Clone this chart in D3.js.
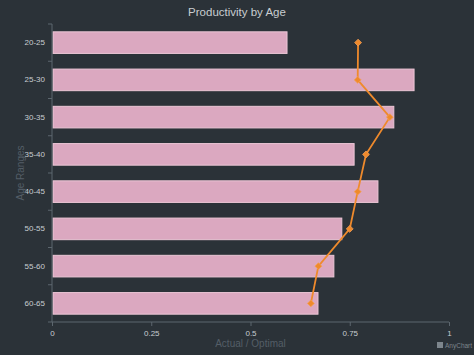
<!DOCTYPE html>
<html>
<head>
<meta charset="utf-8">
<script src="https://cdn.jsdelivr.net/npm/d3@7"></script>
<style>
  html, body { margin: 0; padding: 0; background: #2b3238; }
  svg { display: block; font-family: "Liberation Sans", Arial, sans-serif; }
</style>
</head>
<body>
<div id="chart"></div>
<script>
// Data
const categories = ["20-25", "25-30", "30-35", "35-40", "40-45", "50-55", "55-60", "60-65"];
const actual = [0.592, 0.912, 0.861, 0.761, 0.821, 0.730, 0.710, 0.670];
const optimal = [0.771, 0.770, 0.851, 0.791, 0.770, 0.750, 0.671, 0.652];
const xTicks = [0, 0.25, 0.5, 0.75, 1];
const xTickLabels = ["0", "0.25", "0.5", "0.75", "1"];

const width = 474;
const height = 355;
const margin = { top: 24, right: 25, bottom: 33, left: 52 };
const chartWidth = width - margin.left - margin.right;
const chartHeight = height - margin.top - margin.bottom;

const svg = d3.select("#chart")
    .append("svg")
    .attr("width", width)
    .attr("height", height);

svg.append("rect")
    .attr("width", width)
    .attr("height", height)
    .attr("fill", "#2b3238");

// Title
svg.append("text")
    .attr("x", width / 2)
    .attr("y", 16)
    .attr("text-anchor", "middle")
    .style("font-size", "11.5px")
    .style("fill", "#c8cdd1")
    .text("Productivity by Age");

const chart = svg.append("g")
    .attr("transform", `translate(${margin.left}, ${margin.top})`);

// Scales
const xScale = d3.scaleLinear()
    .domain([0, 1])
    .range([0, chartWidth]);

const yScale = d3.scaleBand()
    .domain(categories)
    .range([0, chartHeight])
    .paddingInner(0.42)
    .paddingOuter(0.21);

// Bars
chart.selectAll("rect.bar")
    .data(categories)
    .enter()
    .append("rect")
    .attr("class", "bar")
    .attr("x", xScale(0) + 1)
    .attr("y", d => yScale(d))
    .attr("width", (d, i) => xScale(actual[i]) - xScale(0) - 1)
    .attr("height", yScale.bandwidth())
    .attr("fill", "#dba8c0")
    .attr("stroke", "#ecc6d6")
    .attr("stroke-width", 1);

// Line
const line = d3.line()
    .x((d, i) => xScale(d))
    .y((d, i) => yScale(categories[i]) + yScale.bandwidth() / 2);

chart.append("path")
    .datum(optimal)
    .attr("fill", "none")
    .attr("stroke", "#ef8a2c")
    .attr("stroke-width", 1.8)
    .attr("d", line);

chart.selectAll("path.marker")
    .data(optimal)
    .enter()
    .append("path")
    .attr("class", "marker")
    .attr("d", d3.symbol().type(d3.symbolDiamond2).size(30))
    .attr("transform", (d, i) => `translate(${xScale(d)}, ${yScale(categories[i]) + yScale.bandwidth() / 2})`)
    .attr("fill", "#ef8a2c")
    .attr("stroke", "#f5a055")
    .attr("stroke-width", 0.8);

// Axes
const axisColor = "#5c666e";

const xAxis = d3.axisBottom(xScale)
    .tickValues(xTicks)
    .tickFormat((d, i) => xTickLabels[i])
    .tickSize(4)
    .tickPadding(4);

const gx = chart.append("g")
    .attr("transform", `translate(0, ${chartHeight})`)
    .call(xAxis);
gx.select(".domain").attr("stroke", axisColor).attr("d", `M0,0H${chartWidth}`);
gx.selectAll(".tick line").attr("stroke", axisColor);
gx.selectAll(".tick text")
    .style("font-size", "8px")
    .style("fill", "#c8cdd1");

const yAxis = d3.axisLeft(yScale)
    .tickSize(0)
    .tickPadding(7);

const gy = chart.append("g").call(yAxis);
gy.select(".domain").attr("stroke", axisColor).attr("d", `M0,0V${chartHeight}`);
gy.selectAll(".tick text")
    .style("font-size", "8px")
    .style("fill", "#c8cdd1");

// category boundary ticks
const step = yScale.step();
chart.selectAll("line.ytick")
    .data(d3.range(categories.length + 1))
    .enter()
    .append("line")
    .attr("class", "ytick")
    .attr("x1", -4)
    .attr("x2", 0)
    .attr("y1", i => i * step)
    .attr("y2", i => i * step)
    .attr("stroke", axisColor);

// Axis titles
svg.append("text")
    .attr("transform", `translate(24, ${margin.top + chartHeight / 2}) rotate(-90)`)
    .attr("text-anchor", "middle")
    .style("font-size", "10px")
    .style("fill", "#545e67")
    .text("Age Ranges");

svg.append("text")
    .attr("x", margin.left + chartWidth / 2)
    .attr("y", 347)
    .attr("text-anchor", "middle")
    .style("font-size", "10px")
    .style("fill", "#545e67")
    .text("Actual / Optimal");

// Credit
const credit = svg.append("g").attr("transform", "translate(437, 348)");
credit.append("rect")
    .attr("x", 0).attr("y", -6)
    .attr("width", 6).attr("height", 6)
    .attr("fill", "#7d868d");
credit.append("text")
    .attr("x", 8)
    .attr("y", 0)
    .style("font-size", "6.5px")
    .style("fill", "#7d868d")
    .text("AnyChart");
</script>
</body>
</html>
